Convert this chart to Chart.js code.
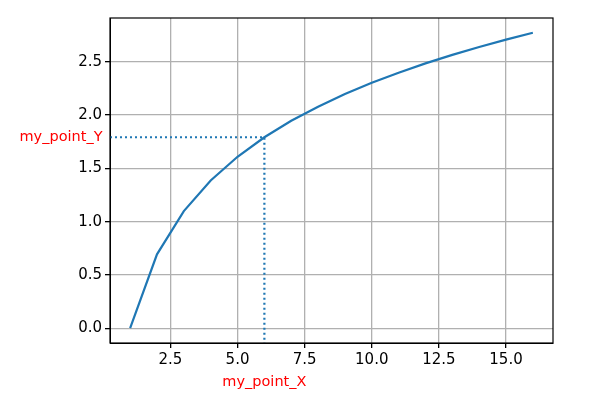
<!DOCTYPE html>
<html><head><script src="https://cdn.jsdelivr.net/npm/chart.js@4"></script>
<style>body{margin:0}#w{width:595px;height:400px}</style></head>
<body><div id="w"><canvas id="c"></canvas></div>
<script>
const xs=[1,2,3,4,5,6,7,8,9,10,11,12,13,14,15,16];
const ys=[0,0.693,1.099,1.386,1.609,1.792,1.946,2.079,2.197,2.303,2.398,2.485,2.565,2.639,2.708,2.773];
const pointX=6, pointY=1.792;
const xTicks=[2.5,5.0,7.5,10.0,12.5,15.0];
const yTicks=[0,0.5,1.0,1.5,2.0,2.5];
const xMin=0.25,xMax=16.75,yMin=-0.139,yMax=2.911;
const blue='#1f77b4';
const labels={id:'lbl',afterDraw(ch){const c=ch.ctx,x=ch.scales.x,y=ch.scales.y;c.save();c.fillStyle='red';c.font='14.5px "DejaVu Sans"';c.textAlign='center';c.textBaseline='middle';
c.fillText('my_point_Y',x.left-49,y.getPixelForValue(pointY));c.fillText('my_point_X',x.getPixelForValue(pointX),y.bottom+39);c.restore();}};
new Chart(document.getElementById('c'),{type:'scatter',data:{datasets:[
{data:xs.map((v,i)=>({x:v,y:ys[i]})),showLine:true,borderColor:blue,borderWidth:2.2,pointRadius:0},
{data:[{x:xMin,y:pointY},{x:pointX,y:pointY},{x:pointX,y:yMin}],showLine:true,borderColor:blue,borderWidth:2.2,borderDash:[2,3],pointRadius:0}
]},options:{animation:false,responsive:true,maintainAspectRatio:false,layout:{padding:{left:0,right:42,top:18,bottom:0}},
plugins:{legend:{display:false},tooltip:{enabled:false}},
scales:{x:{type:'linear',min:xMin,max:xMax,afterFit(s){s.height=57},afterBuildTicks(s){s.ticks=xTicks.map(v=>({value:v}))},
ticks:{color:'#000',font:{family:'DejaVu Sans',size:15},callback:v=>v.toFixed(1),maxRotation:0},grid:{color:'#b0b0b0',lineWidth:1.3,tickColor:'#000',tickLength:5},border:{color:'#000'}},
y:{min:yMin,max:yMax,afterFit(s){s.width=110},afterBuildTicks(s){s.ticks=yTicks.map(v=>({value:v}))},
ticks:{color:'#000',font:{family:'DejaVu Sans',size:15},callback:v=>v.toFixed(1)},grid:{color:'#b0b0b0',lineWidth:1.3,tickColor:'#000',tickLength:5},border:{color:'#000'}}}},
plugins:[labels,{id:'frame',afterDraw(ch){const a=ch.chartArea,c=ch.ctx;c.save();c.strokeStyle='#000';c.lineWidth=1.2;c.strokeRect(a.left,a.top,a.right-a.left,a.bottom-a.top);c.restore();}}]});
</script></body></html>
